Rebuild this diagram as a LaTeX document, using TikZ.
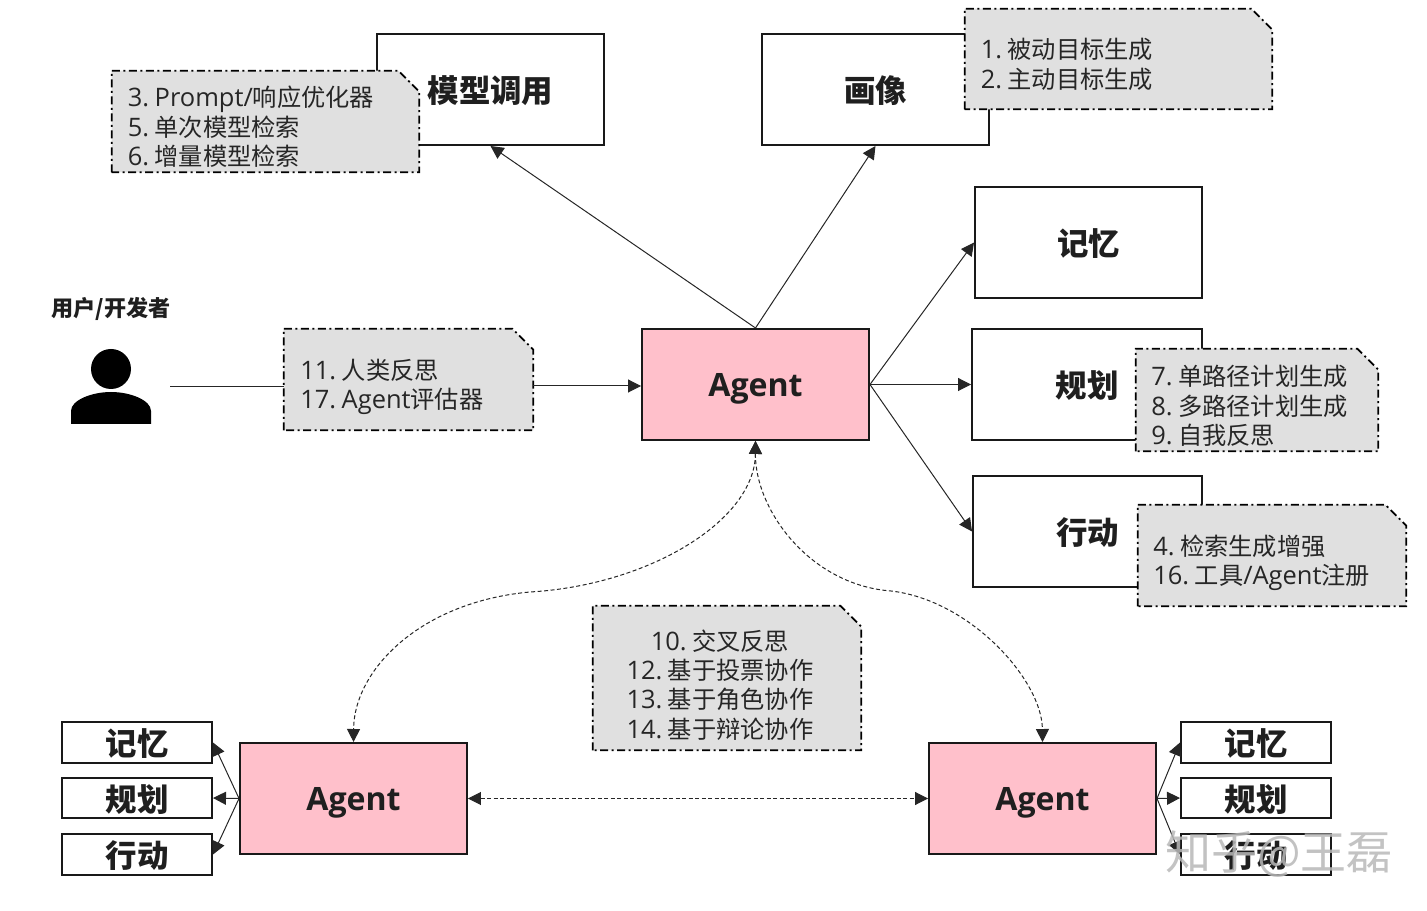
\documentclass[tikz,border=0pt]{standalone}
\usepackage{fontspec}
\setmainfont{Open Sans}[Scale=1.05]
\newfontfamily\cjk{Noto Sans CJK SC}
\usetikzlibrary{arrows.meta}
\newcommand{\zh}[1]{{\cjk #1}}
\definecolor{agentpink}{HTML}{FFC0CB}
\tikzset{
  >={Triangle[length=0.26cm,width=0.26cm]},
  box/.style={draw=black!90,line width=0.04cm,fill=white,minimum width=4.54cm,minimum height=2.22cm,inner sep=0pt,text height=0.68cm,text depth=0.14cm,font=\fontsize{17.9}{20}\selectfont\bfseries,text=black!88},
  smallbox/.style={box,minimum width=3cm,minimum height=0.82cm},
  agent/.style={box,fill=agentpink,text height=0.64cm,text depth=0.14cm,font=\fontsize{17.4}{20}\selectfont\bfseries},
  link/.style={->,line width=0.02cm,draw=black!85},
  peer/.style={<->,line width=0.02cm,draw=black!85,dash pattern=on 0.08cm off 0.05cm},
  notearea/.style={inner sep=0pt},
  note/.style={draw=black,line width=0.035cm,fill=black!12,dash pattern=on 0.16cm off 0.07cm on 0.04cm off 0.07cm},
  notetext/.style={inner sep=0pt,anchor=west,font=\fontsize{13.8}{16.7}\selectfont\spaceskip 0.13em\relax,text=black!85,align=left},
}
% name, centre, width, height
\newcommand{\notebox}[4]{
  \node (#1) [notearea,minimum width=#3,minimum height=#4] at #2 {};
  \draw [note] (#1.south west) -- (#1.north west) -- ([xshift=-0.42cm]#1.north east)
    -- ([yshift=-0.42cm]#1.north east) -- (#1.south east) -- cycle;
}
\begin{document}
\begin{tikzpicture}[x=0.02cm,y=-0.02cm]
  \useasboundingbox (0,0) rectangle (1427,911);

  % main agent and its parts
  \node (agent) [agent] at (755.5,384.5) {Agent};
  \node (model) [box] at (490.5,89.5) {\zh{模型调用}};
  \node (profile) [box] at (875.5,89.5) {\zh{画像}};
  \node (memory) [box] at (1088.5,242.5) {\zh{记忆}};
  \node (plan) [box,minimum width=4.6cm] at (1087,384.5) {\zh{规划}};
  \node (action) [box,minimum width=4.58cm] at (1087.5,531.5) {\zh{行动}};

  \draw [link] (agent.north) -- (model.south);
  \draw [link] (agent.north) -- (profile.south);
  \draw [link] (agent.east) -- (memory.west);
  \draw [link] (agent.east) -- (plan.west);
  \draw [link] (agent.east) -- (action.west);

  % user
  \node (userlabel) [font=\fontsize{12.6}{14}\selectfont\cjk\bfseries,text=black!88] at (111,309) {用户/开发者};
  \fill [black] (111,369) circle (20);
  \fill [black] (71,424) -- (71,411) .. controls (71,400) and (92,392) .. (111,392)
    .. controls (130,392) and (151,400) .. (151,411) -- (151,424) -- cycle;
  \coordinate (user) at (170,387);
  \coordinate (agentin) at ([yshift=-0.03cm]agent.west);

  % lower agents
  \node (agentl) [agent] at (353.5,798.5) {Agent};
  \node (agentr) [agent] at (1042.5,798.5) {Agent};
  \foreach \name/\txt/\y in {mem/记忆/742.5,pla/规划/798,act/行动/854.5}{
    \node (\name l) [smallbox] at (137,\y) {\zh{\txt}};
    \node (\name r) [smallbox] at (1256,\y) {\zh{\txt}};
    \draw [link] (agentl.west) -- (\name l.east);
    \draw [link] (agentr.east) -- (\name r.west);
  }

  \coordinate (peerl) at (530,592);
  \coordinate (peerr) at (891,591);
  \draw [peer] (agent.south) .. controls (755,520) and (650,585) .. (peerl)
    .. controls (420,602) and (354,670) .. (agentl.north);
  \draw [peer] (agent.south) .. controls (755,510) and (810,585) .. (peerr)
    .. controls (970,600) and (1042,680) .. (agentr.north);
  \draw [peer] (agentl.east) -- (agentr.west);

  % notes
  \notebox{notea}{(265.5,121.5)}{6.14cm}{2.02cm}
  \notebox{noteb}{(1118.5,59)}{6.14cm}{2cm}
  \notebox{notec}{(408.5,379.5)}{4.98cm}{2.02cm}
  \notebox{noted}{(1257,400)}{4.84cm}{2.04cm}
  \notebox{notee}{(1272,555.5)}{5.36cm}{2.02cm}
  \notebox{notef}{(727,678)}{5.36cm}{2.88cm}

  \node (texta) [notetext] at (127.5,127) {3. Prompt/\zh{响应优化器}\\5. \zh{单次模型检索}\\6. \zh{增量模型检索}};
  \node (textb) [notetext] at (980.5,64.5) {1. \zh{被动目标生成}\\2. \zh{主动目标生成}};
  \node (textc) [notetext] at (300,387) {11. \zh{人类反思}\\17. Agent\zh{评估器}};
  \node (textd) [notetext] at (1151,406) {7. \zh{单路径计划生成}\\8. \zh{多路径计划生成}\\9. \zh{自我反思}};
  \node (texte) [notetext] at (1153,563) {4. \zh{检索生成增强}\\16. \zh{工具}/Agent\zh{注册}};
  \node (textf) [notetext,anchor=center,align=center] at (720,685) {10. \zh{交叉反思}\\12. \zh{基于投票协作}\\13. \zh{基于角色协作}\\14. \zh{基于辩论协作}};

  \draw [line width=0.02cm,draw=black!85] (user) -- (notec.west |- user);
  \draw [link] (notec.east |- agentin) -- (agentin);

  % watermark
  \node (mark) [inner sep=0pt,font=\fontsize{26.2}{28}\selectfont\cjk,text=black!28,text opacity=0.85] at (1279,854) {知乎@王磊};

\end{tikzpicture}
\end{document}
